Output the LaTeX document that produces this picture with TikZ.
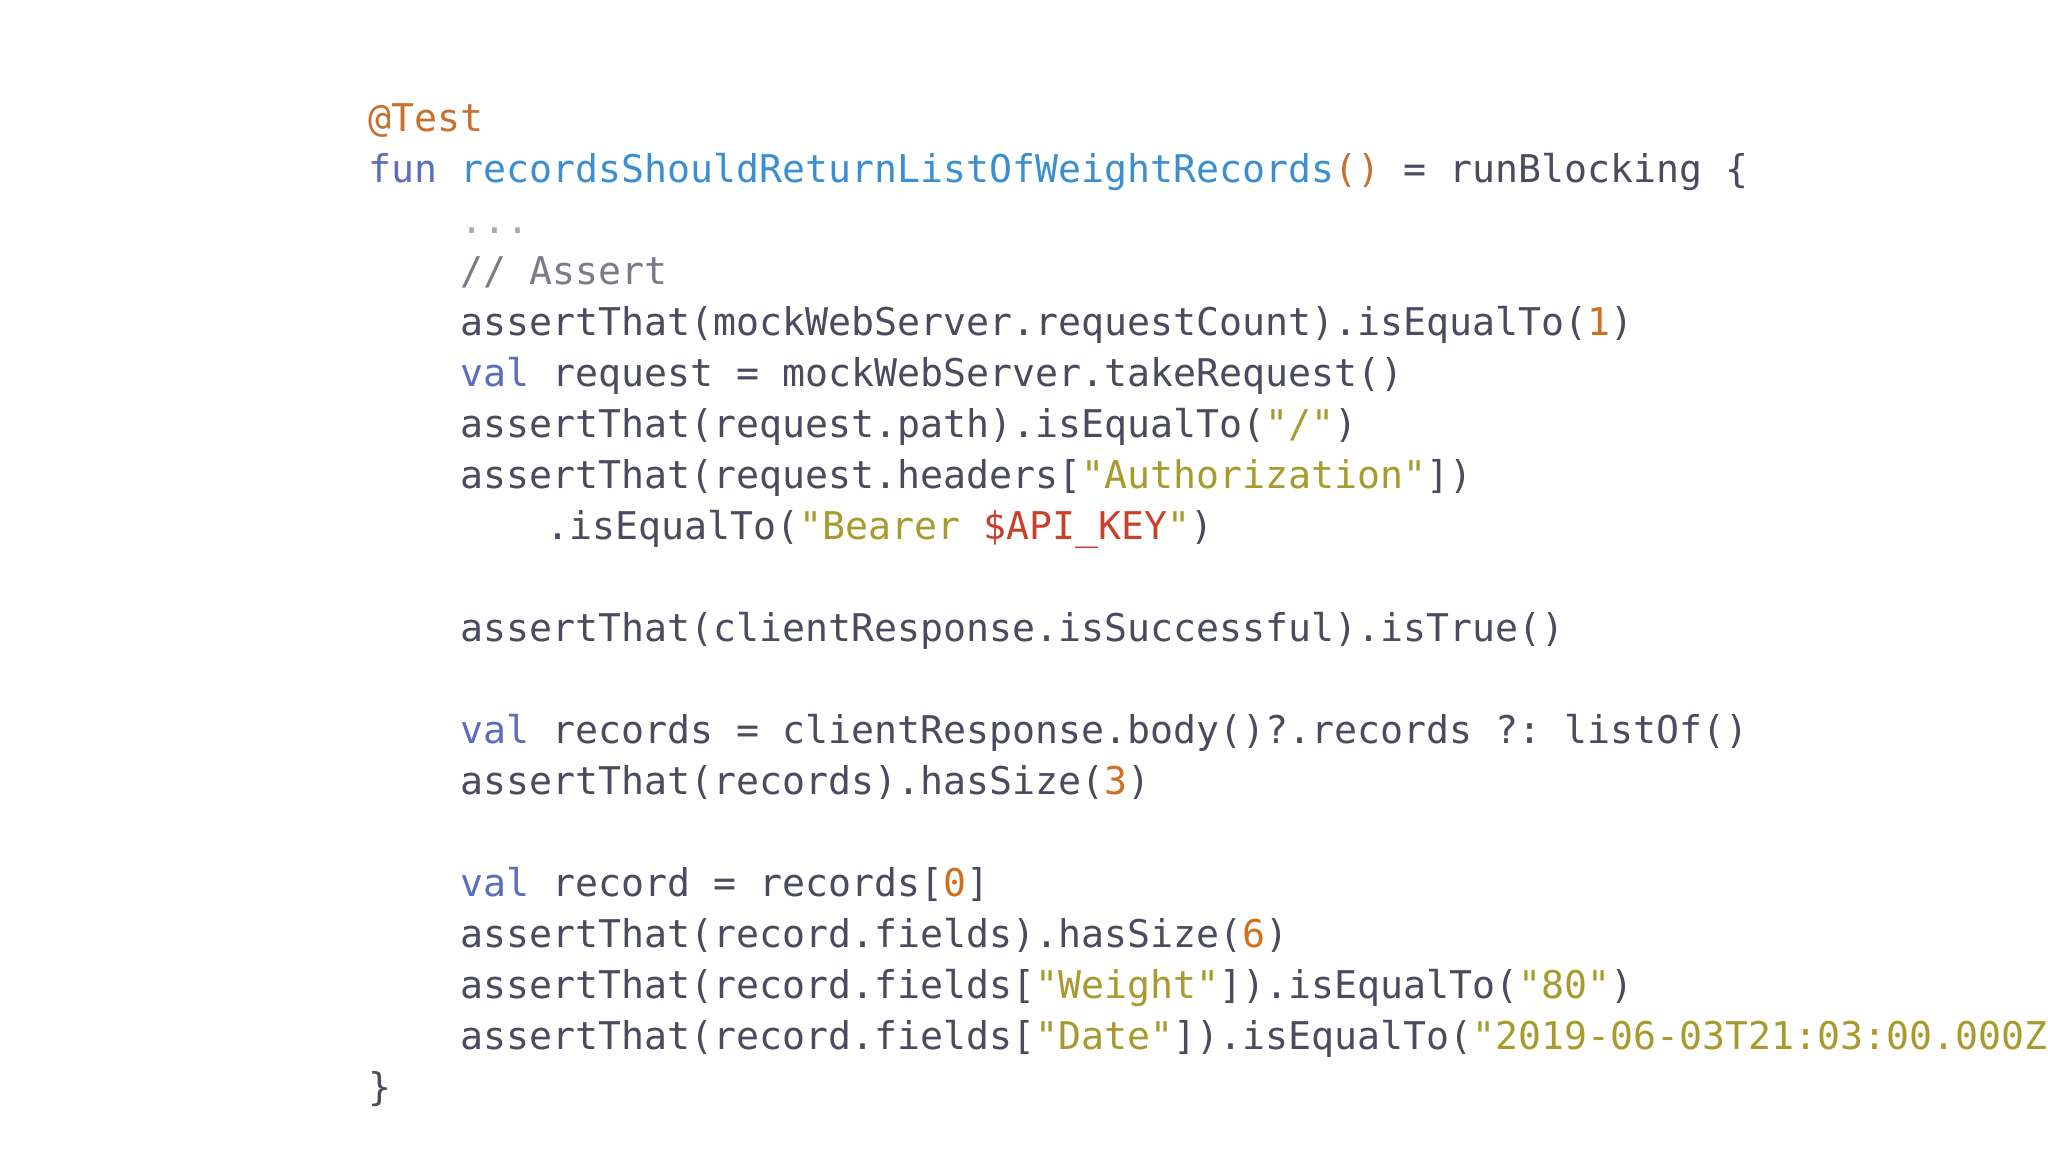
\documentclass[tikz,border=0pt]{standalone}
\usepackage{fontspec}
\setmonofont{DejaVu Sans Mono}
\definecolor{txt}{HTML}{4A4B5E}
\definecolor{kw}{HTML}{5B6DBE}
\definecolor{fn}{HTML}{3B8FD0}
\definecolor{ann}{HTML}{C8702E}
\definecolor{num}{HTML}{D0701E}
\definecolor{str}{HTML}{A89A2C}
\definecolor{var}{HTML}{C8402A}
\definecolor{cmt}{HTML}{7A7B88}
\definecolor{dots}{HTML}{AAAAAA}
\newcommand{\Kw}[1]{\textcolor{kw}{#1}}
\newcommand{\Fn}[1]{\textcolor{fn}{#1}}
\newcommand{\Nm}[1]{\textcolor{num}{#1}}
\newcommand{\St}[1]{\textcolor{str}{#1}}
\begin{document}
\begin{tikzpicture}[x=0.5pt,y=-0.5pt,
  codeline/.style={anchor=base west,inner sep=0pt,font=\ttfamily\fontsize{19.1}{19}\selectfont,text=txt}]
\useasboundingbox (0,0) rectangle (2048,1152);
\clip (0,0) rectangle (2048,1152);
\fill[white] (0,0) rectangle (2048,1152);
\newcommand\Ln[4]{\node[codeline] (#1) at (#2,{131+#3*51}) {#4};}
\Ln{l0}{368}{0}{\textcolor{ann}{@Test}}
\Ln{l1}{368}{1}{\Kw{fun} \Fn{recordsShouldReturnListOfWeightRecords}\textcolor{ann}{()} = runBlocking \{}
\Ln{l2}{460}{2}{\textcolor{dots}{...}}
\Ln{l3}{460}{3}{\textcolor{cmt}{// Assert}}
\Ln{l4}{460}{4}{assertThat(mockWebServer.requestCount).isEqualTo(\Nm{1})}
\Ln{l5}{460}{5}{\Kw{val} request = mockWebServer.takeRequest()}
\Ln{l6}{460}{6}{assertThat(request.path).isEqualTo(\St{"/"})}
\Ln{l7}{460}{7}{assertThat(request.headers[\St{"Authorization"}])}
\Ln{l8}{546}{8}{.isEqualTo(\St{"Bearer }\textcolor{var}{\$API\_KEY}\St{"})}
\Ln{l10}{460}{10}{assertThat(clientResponse.isSuccessful).isTrue()}
\Ln{l12}{460}{12}{\Kw{val} records = clientResponse.body()?.records ?: listOf()}
\Ln{l13}{460}{13}{assertThat(records).hasSize(\Nm{3})}
\Ln{l15}{460}{15}{\Kw{val} record = records[\Nm{0}]}
\Ln{l16}{460}{16}{assertThat(record.fields).hasSize(\Nm{6})}
\Ln{l17}{460}{17}{assertThat(record.fields[\St{"Weight"}]).isEqualTo(\St{"80"})}
\Ln{l18}{460}{18}{assertThat(record.fields[\St{"Date"}]).isEqualTo(\St{"2019-06-03T21:03:00.000Z"})}
\Ln{l19}{368}{19}{\}}
\end{tikzpicture}
\end{document}
